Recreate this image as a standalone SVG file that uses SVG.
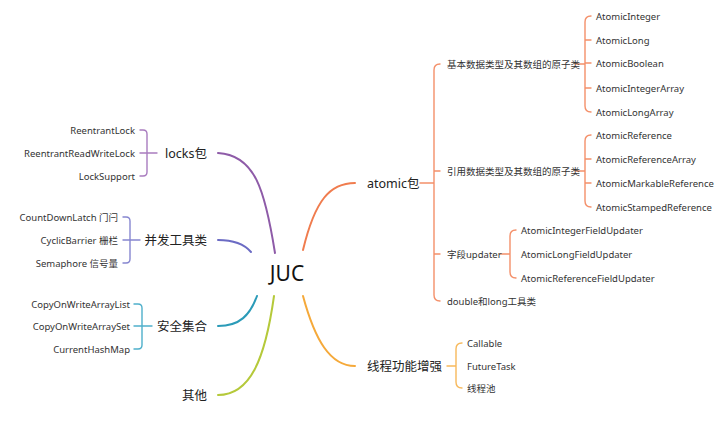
<svg xmlns="http://www.w3.org/2000/svg" width="720" height="447" viewBox="0 0 720 447">
<style>
text{font-family:"Noto Sans","Noto Sans CJK SC",sans-serif;fill:#333;dominant-baseline:central}
.s{font-size:9.5px}
.m{font-size:12.5px;fill:#222}
.r{text-anchor:end}
path{fill:none;stroke-width:2;stroke-linecap:round}
.b{stroke-width:1.4}
</style>
<rect width="720" height="447" fill="#fff"/>
<g id="connectors">
<path d="M303,250 C315,200 330,183 355,183" stroke="#f07c4e"/>
<path d="M303,296 C315,340 330,366 355,366" stroke="#f5a93a"/>
<path d="M275,253 C265,190 255,155 218,153" stroke="#8e5ba8"/>
<path d="M251,252 C245,245 235,240 218,240" stroke="#6b6bc4"/>
<path d="M257,296 C250,315 240,326 218,326" stroke="#2b9bb8"/>
<path d="M274,296 C265,360 250,395 218,395" stroke="#b5c93a"/>
<g stroke="#f4906a" class="b">
<path class="b" d="M420,183 H434 M440,64 Q434,64 434,70 V295 Q434,301 440,301 M434,171 H440 M434,254 H440"/>
<path class="b" d="M575,64 H585 M591,16 Q585,16 585,22 V106 Q585,112 591,112 M585,40 H591 M585,63 H591 M585,88 H591"/>
<path class="b" d="M575,171 H585 M591,135 Q585,135 585,141 V201 Q585,207 591,207 M585,159 H591 M585,183 H591"/>
<path class="b" d="M500,254 H510 M516,230 Q510,230 510,236 V272 Q510,278 516,278"/>
</g>
<path class="b" stroke="#f7b95c" d="M447,366 H456 M462,343 Q456,343 456,349 V382 Q456,388 462,388"/>
<path class="b" stroke="#a97cbf" d="M140,130 H143 Q147,130 147,134 V172 Q147,176 143,176 H140 M140,153 H157"/>
<path class="b" stroke="#8787d0" d="M123,217 H126 Q130,217 130,221 V259 Q130,263 126,263 H123 M123,240 H140"/>
<path class="b" stroke="#4fb0cb" d="M134,304 H138 Q142,304 142,308 V345 Q142,349 138,349 H134 M134,326 H152"/>
</g>
<g id="JUC"><text x="287" y="273" text-anchor="middle" style="font-size:21px;fill:#111">JUC</text></g>
<g id="atomic"><text class="m" x="367" y="183">atomic包</text>
<text class="s" x="447" y="64">基本数据类型及其数组的原子类</text>
<text class="s" x="596" y="16">AtomicInteger</text><text class="s" x="596" y="40">AtomicLong</text><text class="s" x="596" y="63">AtomicBoolean</text><text class="s" x="596" y="88">AtomicIntegerArray</text><text class="s" x="596" y="112">AtomicLongArray</text>
<text class="s" x="447" y="171">引用数据类型及其数组的原子类</text>
<text class="s" x="596" y="135">AtomicReference</text><text class="s" x="596" y="159">AtomicReferenceArray</text><text class="s" x="596" y="183">AtomicMarkableReference</text><text class="s" x="596" y="207">AtomicStampedReference</text>
<text class="s" x="447" y="254">字段updater</text>
<text class="s" x="521" y="230">AtomicIntegerFieldUpdater</text><text class="s" x="521" y="254">AtomicLongFieldUpdater</text><text class="s" x="521" y="278">AtomicReferenceFieldUpdater</text>
<text class="s" x="447" y="301">double和long工具类</text></g>
<g id="thread"><text class="m" x="367" y="366">线程功能增强</text>
<text class="s" x="467" y="343">Callable</text><text class="s" x="467" y="366">FutureTask</text><text class="s" x="467" y="388">线程池</text></g>
<g id="locks"><text class="m r" x="207" y="153">locks包</text>
<text class="s r" x="135" y="130">ReentrantLock</text><text class="s r" x="135" y="153">ReentrantReadWriteLock</text><text class="s r" x="135" y="176">LockSupport</text></g>
<g id="tools"><text class="m r" x="207" y="240">并发工具类</text>
<text class="s r" x="118" y="217">CountDownLatch 门闩</text><text class="s r" x="118" y="240">CyclicBarrier 栅栏</text><text class="s r" x="118" y="263">Semaphore 信号量</text></g>
<g id="coll"><text class="m r" x="207" y="326">安全集合</text>
<text class="s r" x="130" y="304">CopyOnWriteArrayList</text><text class="s r" x="130" y="326">CopyOnWriteArraySet</text><text class="s r" x="130" y="349">CurrentHashMap</text></g>
<g id="other"><text class="m r" x="207" y="395">其他</text></g>
</svg>
